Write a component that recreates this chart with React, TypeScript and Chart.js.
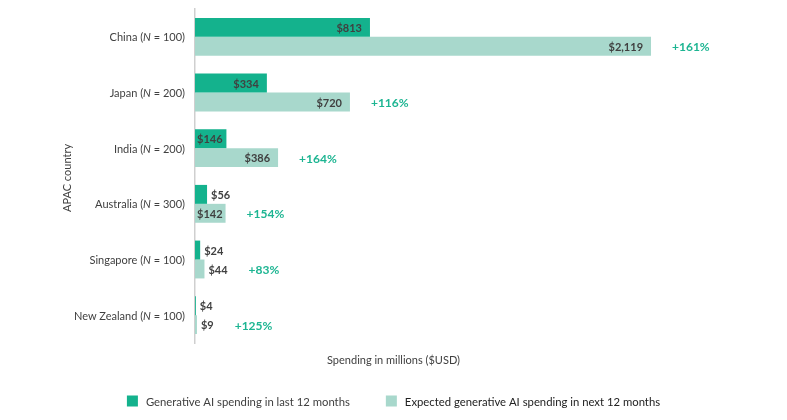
import React, { useEffect, useRef } from "react";
import { Chart, registerables } from "chart.js";

Chart.register(...registerables);

const countries = ["China", "Japan", "India", "Australia", "Singapore", "New Zealand"];
const sampleSizes = [100, 200, 200, 300, 100, 100];
const lastYear = [813, 334, 146, 56, 24, 4];
const nextYear = [2119, 720, 386, 142, 44, 9];
const growthLabels = ["+161%", "+116%", "+164%", "+154%", "+83%", "+125%"];
const seriesNames = [
  "Generative AI spending in last 12 months",
  "Expected generative AI spending in next 12 months",
];

const DARK = "#14b28d";
const LIGHT = "#a8d8cc";
const GROWTH = "#1db592";
const TEXT = "#404040";
const FONT = "Lato, 'Noto Sans', sans-serif";

const fmt = (v: number) => "$" + v.toLocaleString("en-US");

const annotations = {
  id: "annotations",
  afterDatasetsDraw(chart: any) {
    const { ctx, chartArea, width } = chart;
    ctx.save();

    // value labels: inside the bar end when they fit, otherwise just past it
    const labelEnds: number[][] = [[], []];
    ctx.font = `bold 11px ${FONT}`;
    ctx.textBaseline = "middle";
    [0, 1].forEach((di) => {
      const meta = chart.getDatasetMeta(di);
      const data = chart.data.datasets[di].data as number[];
      meta.data.forEach((bar: any, i: number) => {
        const text = fmt(data[i]);
        const w = ctx.measureText(text).width;
        const barW = bar.x - bar.base;
        ctx.fillStyle = TEXT;
        if (w + 3 < barW) {
          const pad = Math.min(8, Math.max(1, barW - w - 2));
          ctx.textAlign = "right";
          ctx.fillText(text, bar.x - pad, bar.y + 1);
          labelEnds[di][i] = bar.x;
        } else {
          ctx.textAlign = "left";
          ctx.fillText(text, bar.x + 4, bar.y + 1);
          labelEnds[di][i] = bar.x + 4 + w;
        }
      });
    });

    // growth labels beside the next-12-months bars
    const meta1 = chart.getDatasetMeta(1);
    ctx.font = `bold 12px ${FONT}`;
    ctx.fillStyle = GROWTH;
    ctx.textAlign = "left";
    meta1.data.forEach((bar: any, i: number) => {
      ctx.fillText(growthLabels[i], labelEnds[1][i] + 21, bar.y + 1);
    });

    // category labels with italic N
    const yScale = chart.scales.y;
    ctx.fillStyle = TEXT;
    countries.forEach((c, i) => {
      const y = yScale.getPixelForValue(i) + 1;
      const parts = [
        { t: `${c} (`, f: `11px ${FONT}` },
        { t: "N", f: `italic 11px ${FONT}` },
        { t: ` = ${sampleSizes[i]})`, f: `11px ${FONT}` },
      ];
      let x = chartArea.left - 10;
      for (let p = parts.length - 1; p >= 0; p--) {
        ctx.font = parts[p].f;
        x -= ctx.measureText(parts[p].t).width;
      }
      ctx.textAlign = "left";
      parts.forEach((p) => {
        ctx.font = p.f;
        ctx.fillText(p.t, x, y);
        x += ctx.measureText(p.t).width;
      });
    });

    // axis titles
    ctx.font = `11px ${FONT}`;
    ctx.textAlign = "center";
    ctx.fillText("Spending in millions ($USD)", width / 2, chartArea.bottom + 17);
    ctx.save();
    ctx.translate(59, (chartArea.top + chartArea.bottom) / 2 + 2);
    ctx.rotate(-Math.PI / 2);
    ctx.fillText("APAC country", 0, 0);
    ctx.restore();

    // legend
    const box = 11;
    const gap = 8;
    const spacing = 36;
    ctx.font = `11.3px ${FONT}`;
    const w0 = ctx.measureText(seriesNames[0]).width;
    const w1 = ctx.measureText(seriesNames[1]).width;
    const total = box + gap + w0 + spacing + box + gap + w1;
    let lx = width / 2 - total / 2;
    const ly = chartArea.bottom + 58;
    ctx.textAlign = "left";
    [DARK, LIGHT].forEach((col, k) => {
      ctx.fillStyle = col;
      ctx.fillRect(lx, ly - box / 2, box, box);
      lx += box + gap;
      ctx.fillStyle = k === 0 ? TEXT : "#222";
      ctx.fillText(seriesNames[k], lx, ly + 1);
      lx += (k === 0 ? w0 : w1) + spacing;
    });

    ctx.restore();
  },
};

export default function App() {
  const ref = useRef<HTMLCanvasElement>(null);

  useEffect(() => {
    if (!ref.current) return;
    const chart = new Chart(ref.current, {
      type: "bar",
      data: {
        labels: countries,
        datasets: [
          { label: seriesNames[0], data: lastYear, backgroundColor: DARK },
          { label: seriesNames[1], data: nextYear, backgroundColor: LIGHT },
        ],
      },
      options: {
        indexAxis: "y",
        responsive: true,
        maintainAspectRatio: false,
        animation: false,
        categoryPercentage: 0.68,
        barPercentage: 1,
        layout: { padding: { top: 1, right: 46, bottom: 69, left: 0 } },
        plugins: {
          legend: { display: false },
          tooltip: { enabled: false },
        },
        scales: {
          x: { display: false, min: 0, max: 2500 },
          y: {
            display: true,
            ticks: { display: false },
            grid: { display: false },
            border: { display: true, color: "#cfcfcf", width: 1.5 },
            afterFit: (scale: any) => {
              scale.width = 187;
            },
          },
        },
      },
      plugins: [annotations],
    });
    return () => chart.destroy();
  }, []);

  return (
    <div style={{ width: 771, height: 404, position: "relative" }}>
      <canvas ref={ref} />
    </div>
  );
}
